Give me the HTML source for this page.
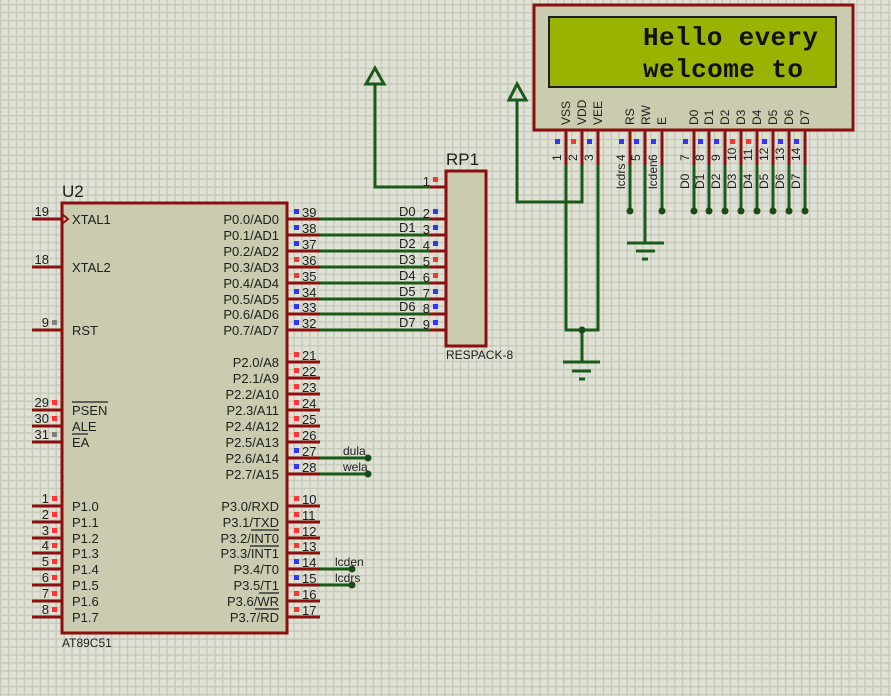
<!DOCTYPE html>
<html><head><meta charset="utf-8"><style>
html,body{margin:0;padding:0;background:#dfe1d5;}
svg{display:block}
text{font-family:"Liberation Sans",sans-serif;fill:#1e1e1e}
</style></head><body>
<svg width="891" height="696" viewBox="0 0 891 696" xmlns="http://www.w3.org/2000/svg">
<defs>
<pattern id="g" x="0" y="4" width="7.93" height="7.93" patternUnits="userSpaceOnUse">
<rect width="7.93" height="7.93" fill="#e0e2d6"/>
<rect x="0" y="0" width="1.4" height="7.93" fill="#c7c9bc"/>
<rect x="0" y="0" width="7.93" height="1.4" fill="#c7c9bc"/>
</pattern>
</defs>
<rect width="891" height="696" fill="url(#g)"/>

<!-- U2 chip -->
<rect x="62" y="203" width="225" height="430" fill="#cbcbb0" stroke="#8a1010" stroke-width="3"/>
<text x="62" y="197" font-size="17">U2</text>
<text x="62" y="647" font-size="12">AT89C51</text>

<g stroke="#8a1010" stroke-width="3">
<line x1="32" y1="219" x2="62" y2="219"/><line x1="32" y1="267" x2="62" y2="267"/><line x1="32" y1="330" x2="62" y2="330"/>
<line x1="32" y1="410" x2="62" y2="410"/><line x1="32" y1="426" x2="62" y2="426"/><line x1="32" y1="442" x2="62" y2="442"/>
<line x1="32" y1="506" x2="62" y2="506"/><line x1="32" y1="522" x2="62" y2="522"/><line x1="32" y1="538" x2="62" y2="538"/><line x1="32" y1="553" x2="62" y2="553"/>
<line x1="32" y1="569" x2="62" y2="569"/><line x1="32" y1="585" x2="62" y2="585"/><line x1="32" y1="601" x2="62" y2="601"/><line x1="32" y1="617" x2="62" y2="617"/>
<line x1="287" y1="219" x2="320" y2="219"/><line x1="287" y1="235" x2="320" y2="235"/><line x1="287" y1="251" x2="320" y2="251"/><line x1="287" y1="267" x2="320" y2="267"/>
<line x1="287" y1="283" x2="320" y2="283"/><line x1="287" y1="299" x2="320" y2="299"/><line x1="287" y1="314" x2="320" y2="314"/><line x1="287" y1="330" x2="320" y2="330"/>
<line x1="287" y1="362" x2="320" y2="362"/><line x1="287" y1="378" x2="320" y2="378"/><line x1="287" y1="394" x2="320" y2="394"/><line x1="287" y1="410" x2="320" y2="410"/>
<line x1="287" y1="426" x2="320" y2="426"/><line x1="287" y1="442" x2="320" y2="442"/><line x1="287" y1="458" x2="320" y2="458"/><line x1="287" y1="474" x2="320" y2="474"/>
<line x1="287" y1="506" x2="320" y2="506"/><line x1="287" y1="522" x2="320" y2="522"/><line x1="287" y1="538" x2="320" y2="538"/><line x1="287" y1="553" x2="320" y2="553"/>
<line x1="287" y1="569" x2="320" y2="569"/><line x1="287" y1="585" x2="320" y2="585"/><line x1="287" y1="601" x2="320" y2="601"/><line x1="287" y1="617" x2="320" y2="617"/>
<line x1="430" y1="187" x2="446" y2="187"/><line x1="430" y1="219" x2="446" y2="219"/><line x1="430" y1="235" x2="446" y2="235"/><line x1="430" y1="251" x2="446" y2="251"/>
<line x1="430" y1="267" x2="446" y2="267"/><line x1="430" y1="283" x2="446" y2="283"/><line x1="430" y1="299" x2="446" y2="299"/><line x1="430" y1="314" x2="446" y2="314"/><line x1="430" y1="330" x2="446" y2="330"/>
<line x1="566" y1="130" x2="566" y2="165"/><line x1="582" y1="130" x2="582" y2="165"/><line x1="598" y1="130" x2="598" y2="165"/>
<line x1="630" y1="130" x2="630" y2="165"/><line x1="645" y1="130" x2="645" y2="165"/><line x1="662" y1="130" x2="662" y2="165"/>
<line x1="694" y1="130" x2="694" y2="165"/><line x1="709" y1="130" x2="709" y2="165"/><line x1="725" y1="130" x2="725" y2="165"/><line x1="741" y1="130" x2="741" y2="165"/>
<line x1="757" y1="130" x2="757" y2="165"/><line x1="773" y1="130" x2="773" y2="165"/><line x1="789" y1="130" x2="789" y2="165"/><line x1="805" y1="130" x2="805" y2="165"/>
</g>
<polyline points="62,214 68,219 62,224" fill="none" stroke="#8a1010" stroke-width="2"/>

<g stroke="#1a5a1a" stroke-width="3" fill="none">
<line x1="320" y1="219" x2="430" y2="219"/><line x1="320" y1="235" x2="430" y2="235"/><line x1="320" y1="251" x2="430" y2="251"/><line x1="320" y1="267" x2="430" y2="267"/>
<line x1="320" y1="283" x2="430" y2="283"/><line x1="320" y1="299" x2="430" y2="299"/><line x1="320" y1="314" x2="430" y2="314"/><line x1="320" y1="330" x2="430" y2="330"/>
<polyline points="430,187 375,187 375,84"/>
<polygon points="375,68 366,84 384,84"/>
<polyline points="582,165 582,202 517,202 517,100"/>
<polygon points="517,84 509,100 526,100"/>
<polyline points="566,165 566,330 598,330 598,165"/>
<line x1="582" y1="330" x2="582" y2="362"/>
<line x1="563" y1="362" x2="600" y2="362"/><line x1="572" y1="371" x2="591" y2="371"/><line x1="579" y1="379" x2="585" y2="379"/>
<line x1="630" y1="165" x2="630" y2="211"/><line x1="662" y1="165" x2="662" y2="211"/>
<line x1="645" y1="165" x2="645" y2="243"/>
<line x1="627" y1="243" x2="664" y2="243"/><line x1="636" y1="251" x2="655" y2="251"/><line x1="642" y1="259" x2="648" y2="259"/>
<line x1="694" y1="165" x2="694" y2="211"/><line x1="709" y1="165" x2="709" y2="211"/><line x1="725" y1="165" x2="725" y2="211"/><line x1="741" y1="165" x2="741" y2="211"/>
<line x1="757" y1="165" x2="757" y2="211"/><line x1="773" y1="165" x2="773" y2="211"/><line x1="789" y1="165" x2="789" y2="211"/><line x1="805" y1="165" x2="805" y2="211"/>
<line x1="320" y1="458" x2="368" y2="458"/><line x1="320" y1="474" x2="368" y2="474"/>
<line x1="320" y1="569" x2="352" y2="569"/><line x1="320" y1="585" x2="352" y2="585"/>
</g>
<g fill="#1a4a1a">
<circle cx="582" cy="330" r="3.5"/>
<circle cx="630" cy="211" r="3.5"/><circle cx="662" cy="211" r="3.5"/>
<circle cx="694" cy="211" r="3.5"/><circle cx="709" cy="211" r="3.5"/><circle cx="725" cy="211" r="3.5"/><circle cx="741" cy="211" r="3.5"/>
<circle cx="757" cy="211" r="3.5"/><circle cx="773" cy="211" r="3.5"/><circle cx="789" cy="211" r="3.5"/><circle cx="805" cy="211" r="3.5"/>
<circle cx="368" cy="458" r="3.5"/><circle cx="368" cy="474" r="3.5"/>
<circle cx="352" cy="569" r="3.5"/><circle cx="352" cy="585" r="3.5"/>
</g>

<rect x="446" y="171" width="40" height="175" fill="#cbcbb0" stroke="#8a1010" stroke-width="3"/>
<text x="446" y="165" font-size="17">RP1</text>
<text x="446" y="359" font-size="12">RESPACK-8</text>

<rect x="534" y="5" width="319" height="125" fill="#cbcbb0" stroke="#8a1010" stroke-width="3"/>
<rect x="549" y="17" width="287" height="70" fill="#9ab300" stroke="#1e1e1e" stroke-width="2"/>
<text x="643" y="45" font-size="26" font-weight="bold" textLength="175" style="font-family:'Liberation Mono',monospace;fill:#111">Hello every</text>
<text x="643" y="77" font-size="26" font-weight="bold" textLength="160" style="font-family:'Liberation Mono',monospace;fill:#111">welcome to</text>

<g font-size="12">
<text transform="translate(570,125) rotate(-90)">VSS</text>
<text transform="translate(586,125) rotate(-90)">VDD</text>
<text transform="translate(602,125) rotate(-90)">VEE</text>
<text transform="translate(634,125) rotate(-90)">RS</text>
<text transform="translate(650,125) rotate(-90)">RW</text>
<text transform="translate(666,125) rotate(-90)">E</text>
<text transform="translate(698,125) rotate(-90)">D0</text>
<text transform="translate(713,125) rotate(-90)">D1</text>
<text transform="translate(729,125) rotate(-90)">D2</text>
<text transform="translate(745,125) rotate(-90)">D3</text>
<text transform="translate(761,125) rotate(-90)">D4</text>
<text transform="translate(777,125) rotate(-90)">D5</text>
<text transform="translate(793,125) rotate(-90)">D6</text>
<text transform="translate(809,125) rotate(-90)">D7</text>
<text transform="translate(561,161) rotate(-90)">1</text>
<text transform="translate(577,161) rotate(-90)">2</text>
<text transform="translate(593,161) rotate(-90)">3</text>
<text transform="translate(625,161) rotate(-90)">4</text>
<text transform="translate(640,161) rotate(-90)">5</text>
<text transform="translate(657,161) rotate(-90)">6</text>
<text transform="translate(689,161) rotate(-90)">7</text>
<text transform="translate(704,161) rotate(-90)">8</text>
<text transform="translate(720,161) rotate(-90)">9</text>
<text transform="translate(736,161) rotate(-90)">10</text>
<text transform="translate(752,161) rotate(-90)">11</text>
<text transform="translate(768,161) rotate(-90)">12</text>
<text transform="translate(784,161) rotate(-90)">13</text>
<text transform="translate(800,161) rotate(-90)">14</text>
<text transform="translate(625,189) rotate(-90)">lcdrs</text>
<text transform="translate(657,189) rotate(-90)">lcden</text>
<text transform="translate(689,189) rotate(-90)">D0</text>
<text transform="translate(704,189) rotate(-90)">D1</text>
<text transform="translate(720,189) rotate(-90)">D2</text>
<text transform="translate(736,189) rotate(-90)">D3</text>
<text transform="translate(752,189) rotate(-90)">D4</text>
<text transform="translate(768,189) rotate(-90)">D5</text>
<text transform="translate(784,189) rotate(-90)">D6</text>
<text transform="translate(800,189) rotate(-90)">D7</text>
</g>
<g>
<rect x="555" y="139" width="5" height="5" fill="#3333ff"/><rect x="571" y="139" width="5" height="5" fill="#ff3333"/><rect x="587" y="139" width="5" height="5" fill="#3333ff"/>
<rect x="619" y="139" width="5" height="5" fill="#3333ff"/><rect x="634" y="139" width="5" height="5" fill="#3333ff"/><rect x="651" y="139" width="5" height="5" fill="#3333ff"/>
<rect x="683" y="139" width="5" height="5" fill="#3333ff"/><rect x="698" y="139" width="5" height="5" fill="#3333ff"/><rect x="714" y="139" width="5" height="5" fill="#3333ff"/>
<rect x="730" y="139" width="5" height="5" fill="#ff3333"/><rect x="746" y="139" width="5" height="5" fill="#ff3333"/><rect x="762" y="139" width="5" height="5" fill="#3333ff"/>
<rect x="778" y="139" width="5" height="5" fill="#3333ff"/><rect x="794" y="139" width="5" height="5" fill="#3333ff"/>
</g>

<g font-size="13">
<text x="72" y="224">XTAL1</text><text x="72" y="272">XTAL2</text><text x="72" y="335">RST</text>
<text x="72" y="415">PSEN</text><text x="72" y="431">ALE</text><text x="72" y="447">EA</text>
<text x="72" y="511">P1.0</text><text x="72" y="527">P1.1</text><text x="72" y="543">P1.2</text><text x="72" y="558">P1.3</text>
<text x="72" y="574">P1.4</text><text x="72" y="590">P1.5</text><text x="72" y="606">P1.6</text><text x="72" y="622">P1.7</text>
</g>
<g font-size="13" text-anchor="end">
<text x="279" y="224">P0.0/AD0</text><text x="279" y="240">P0.1/AD1</text><text x="279" y="256">P0.2/AD2</text><text x="279" y="272">P0.3/AD3</text>
<text x="279" y="288">P0.4/AD4</text><text x="279" y="304">P0.5/AD5</text><text x="279" y="319">P0.6/AD6</text><text x="279" y="335">P0.7/AD7</text>
<text x="279" y="367">P2.0/A8</text><text x="279" y="383">P2.1/A9</text><text x="279" y="399">P2.2/A10</text><text x="279" y="415">P2.3/A11</text>
<text x="279" y="431">P2.4/A12</text><text x="279" y="447">P2.5/A13</text><text x="279" y="463">P2.6/A14</text><text x="279" y="479">P2.7/A15</text>
<text x="279" y="511">P3.0/RXD</text><text x="279" y="527">P3.1/TXD</text><text x="279" y="543">P3.2/INT0</text><text x="279" y="558">P3.3/INT1</text>
<text x="279" y="574">P3.4/T0</text><text x="279" y="590">P3.5/T1</text><text x="279" y="606">P3.6/WR</text><text x="279" y="622">P3.7/RD</text>
</g>
<g stroke="#1e1e1e" stroke-width="1.2">
<line x1="72" y1="402" x2="108" y2="402"/><line x1="72" y1="434" x2="88" y2="434"/>
<line x1="251" y1="530" x2="279" y2="530"/><line x1="250" y1="546" x2="279" y2="546"/>
<line x1="259" y1="593" x2="279" y2="593"/><line x1="255" y1="609" x2="279" y2="609"/>
</g>

<g font-size="13" text-anchor="end">
<text x="49" y="216">19</text><text x="49" y="264">18</text><text x="49" y="327">9</text>
<text x="49" y="407">29</text><text x="49" y="423">30</text><text x="49" y="439">31</text>
<text x="49" y="503">1</text><text x="49" y="519">2</text><text x="49" y="535">3</text><text x="49" y="550">4</text>
<text x="49" y="566">5</text><text x="49" y="582">6</text><text x="49" y="598">7</text><text x="49" y="614">8</text>
<text x="430" y="186">1</text><text x="430" y="218">2</text><text x="430" y="234">3</text><text x="430" y="250">4</text>
<text x="430" y="266">5</text><text x="430" y="282">6</text><text x="430" y="298">7</text><text x="430" y="313">8</text><text x="430" y="329">9</text>
</g>
<g font-size="13">
<text x="399" y="216">D0</text><text x="399" y="232">D1</text><text x="399" y="248">D2</text><text x="399" y="264">D3</text>
<text x="399" y="280">D4</text><text x="399" y="296">D5</text><text x="399" y="311">D6</text><text x="399" y="327">D7</text>
</g>
<g font-size="12">
<text x="343" y="455">dula</text><text x="343" y="471">wela</text>
<text x="335" y="566">lcden</text><text x="335" y="582">lcdrs</text>
</g>
<g fill="#3333ff"><rect x="433" y="209" width="5" height="5"/><rect x="433" y="225" width="5" height="5"/><rect x="433" y="241" width="5" height="5"/>
<rect x="433" y="289" width="5" height="5"/><rect x="433" y="304" width="5" height="5"/><rect x="433" y="320" width="5" height="5"/></g>
<g fill="#ff3333"><rect x="433" y="177" width="5" height="5"/><rect x="433" y="257" width="5" height="5"/><rect x="433" y="273" width="5" height="5"/></g>

<g font-size="13">
<text x="302" y="217">39</text><text x="302" y="233">38</text><text x="302" y="249">37</text><text x="302" y="265">36</text>
<text x="302" y="281">35</text><text x="302" y="297">34</text><text x="302" y="312">33</text><text x="302" y="328">32</text>
<text x="302" y="360">21</text><text x="302" y="376">22</text><text x="302" y="392">23</text><text x="302" y="408">24</text>
<text x="302" y="424">25</text><text x="302" y="440">26</text><text x="302" y="456">27</text><text x="302" y="472">28</text>
<text x="302" y="504">10</text><text x="302" y="520">11</text><text x="302" y="536">12</text><text x="302" y="551">13</text>
<text x="302" y="567">14</text><text x="302" y="583">15</text><text x="302" y="599">16</text><text x="302" y="615">17</text>
</g>
<g fill="#3333ff">
<rect x="294" y="209" width="5" height="5"/><rect x="294" y="225" width="5" height="5"/><rect x="294" y="241" width="5" height="5"/>
<rect x="294" y="289" width="5" height="5"/><rect x="294" y="304" width="5" height="5"/><rect x="294" y="320" width="5" height="5"/>
<rect x="294" y="448" width="5" height="5"/><rect x="294" y="464" width="5" height="5"/>
<rect x="294" y="559" width="5" height="5"/><rect x="294" y="575" width="5" height="5"/>
</g>
<g fill="#ff3333">
<rect x="294" y="257" width="5" height="5"/><rect x="294" y="273" width="5" height="5"/>
<rect x="294" y="352" width="5" height="5"/><rect x="294" y="368" width="5" height="5"/><rect x="294" y="384" width="5" height="5"/>
<rect x="294" y="400" width="5" height="5"/><rect x="294" y="416" width="5" height="5"/><rect x="294" y="432" width="5" height="5"/>
<rect x="294" y="496" width="5" height="5"/><rect x="294" y="512" width="5" height="5"/><rect x="294" y="528" width="5" height="5"/><rect x="294" y="543" width="5" height="5"/>
<rect x="294" y="591" width="5" height="5"/><rect x="294" y="607" width="5" height="5"/>
<rect x="52" y="400" width="5" height="5"/><rect x="52" y="416" width="5" height="5"/>
<rect x="52" y="496" width="5" height="5"/><rect x="52" y="512" width="5" height="5"/><rect x="52" y="528" width="5" height="5"/><rect x="52" y="543" width="5" height="5"/>
<rect x="52" y="559" width="5" height="5"/><rect x="52" y="575" width="5" height="5"/><rect x="52" y="591" width="5" height="5"/><rect x="52" y="607" width="5" height="5"/>
</g>
<g fill="#808078"><rect x="52" y="320" width="5" height="5"/><rect x="52" y="432" width="5" height="5"/></g>
</svg>
</body></html>
